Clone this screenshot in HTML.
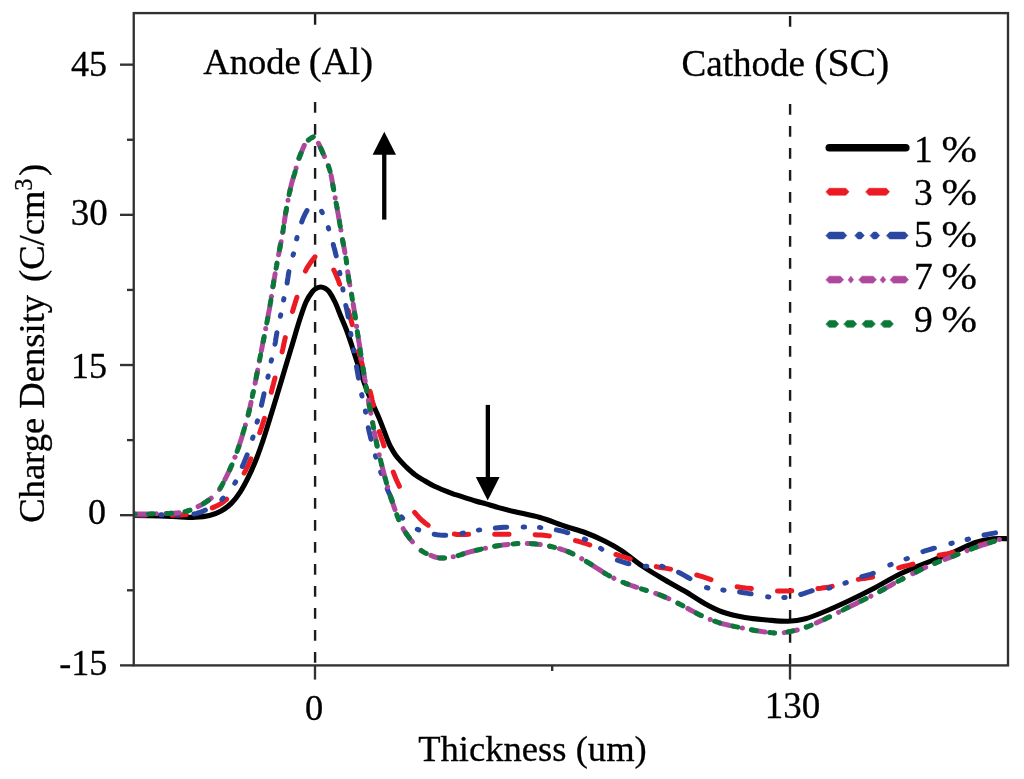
<!DOCTYPE html>
<html><head><meta charset="utf-8"><title>Charge Density</title>
<style>html,body{margin:0;padding:0;background:#fff}svg{display:block}</style></head>
<body>
<svg width="1024" height="779" viewBox="0 0 1024 779">
<rect width="1024" height="779" fill="#fff"/>
<g stroke="#1c1c1c" stroke-width="2.4" stroke-dasharray="10.8 11.2" fill="none">
<line x1="315.1" y1="14" x2="315.1" y2="665.4"/>
<line x1="790.1" y1="16" x2="790.1" y2="665.4"/>
</g>
<rect x="200" y="30" width="176" height="66" fill="#fff"/>
<rect x="678" y="30" width="212" height="68" fill="#fff"/>
<clipPath id="cp"><rect x="133.75" y="13.10" width="874.25" height="652.30"/></clipPath>
<g clip-path="url(#cp)" fill="none" stroke-linecap="round" stroke-linejoin="round">
<path d="M133.00 515.50 C137.50 515.58 152.17 515.77 160.00 516.00 C167.83 516.23 174.10 516.68 180.00 516.90 C185.90 517.12 190.48 517.52 195.40 517.30 C200.32 517.08 205.22 516.63 209.50 515.60 C213.78 514.57 217.47 513.13 221.10 511.10 C224.73 509.07 228.10 506.60 231.30 503.40 C234.50 500.20 237.30 496.60 240.30 491.90 C243.30 487.20 246.52 480.98 249.30 475.20 C252.08 469.42 254.65 463.18 257.00 457.20 C259.35 451.22 261.30 445.58 263.40 439.30 C265.50 433.02 267.42 426.55 269.60 419.50 C271.78 412.45 274.07 405.03 276.50 397.00 C278.93 388.97 281.63 379.85 284.20 371.30 C286.77 362.75 289.33 354.25 291.90 345.70 C294.47 337.15 297.25 327.28 299.60 320.00 C301.95 312.72 303.87 306.73 306.00 302.00 C308.13 297.27 310.65 293.90 312.40 291.60 C314.15 289.30 315.12 288.97 316.50 288.20 C317.88 287.43 319.28 287.00 320.70 287.00 C322.12 287.00 323.62 287.43 325.00 288.20 C326.38 288.97 327.33 289.30 329.00 291.60 C330.67 293.90 333.08 298.02 335.00 302.00 C336.92 305.98 338.62 310.92 340.50 315.50 C342.38 320.08 344.47 324.67 346.30 329.50 C348.13 334.33 349.72 339.15 351.50 344.50 C353.28 349.85 354.28 353.62 357.00 361.60 C359.72 369.58 364.08 382.90 367.80 392.40 C371.52 401.90 376.02 410.67 379.30 418.60 C382.58 426.53 385.55 435.18 387.50 440.00 C389.45 444.82 389.67 445.00 391.00 447.50 C392.33 450.00 393.92 452.75 395.50 455.00 C397.08 457.25 398.72 459.00 400.50 461.00 C402.28 463.00 403.78 464.72 406.20 467.00 C408.62 469.28 411.92 472.40 415.00 474.70 C418.08 477.00 421.37 478.83 424.70 480.80 C428.03 482.77 430.38 484.37 435.00 486.50 C439.62 488.63 448.57 492.12 452.40 493.60 C456.23 495.08 454.15 494.17 458.00 495.40 C461.85 496.63 470.83 499.58 475.50 501.00 C480.17 502.42 482.15 502.80 486.00 503.90 C489.85 505.00 493.77 506.29 498.60 507.60 C503.43 508.91 508.10 510.10 515.00 511.75 C521.90 513.40 531.67 515.08 540.00 517.50 C548.33 519.92 557.50 523.75 565.00 526.25 C572.50 528.75 578.33 530.00 585.00 532.50 C591.67 535.00 598.75 538.12 605.00 541.25 C611.25 544.38 616.25 547.08 622.50 551.25 C628.75 555.42 635.42 561.46 642.50 566.25 C649.58 571.04 657.92 575.83 665.00 580.00 C672.08 584.17 678.33 587.29 685.00 591.25 C691.67 595.21 698.75 600.29 705.00 603.75 C711.25 607.21 715.83 609.71 722.50 612.00 C729.17 614.29 737.50 616.17 745.00 617.50 C752.50 618.83 760.33 619.38 767.50 620.00 C774.67 620.62 781.67 621.46 788.00 621.25 C794.33 621.04 799.25 620.42 805.50 618.75 C811.75 617.08 818.00 614.38 825.50 611.25 C833.00 608.12 842.17 603.96 850.50 600.00 C858.83 596.04 867.17 591.88 875.50 587.50 C883.83 583.12 891.33 578.12 900.50 573.75 C909.67 569.38 921.33 565.00 930.50 561.25 C939.67 557.50 948.00 554.38 955.50 551.25 C963.00 548.12 969.25 544.58 975.50 542.50 C981.75 540.42 987.58 539.38 993.00 538.75 C998.42 538.12 1005.50 538.75 1008.00 538.75" stroke="#000" stroke-width="5.1" stroke-linecap="butt"/>
<path d="M133.0 515.0L135.6 515.0L138.1 515.0L140.7 515.0L143.2 515.1L145.8 515.1M171.9 515.2L174.8 515.1L177.6 515.1L180.5 515.0L183.3 514.8L186.2 514.6M212.3 507.9L215.2 506.6L218.0 505.2L220.9 503.6L223.7 501.6L226.6 499.2M244.1 473.1L245.7 470.2L247.1 467.4L248.5 464.5L249.7 461.7L250.8 458.8M259.7 432.7L260.7 429.8L261.7 427.0L262.6 424.1L263.5 421.3L264.4 418.4M271.3 392.3L272.0 389.4L272.7 386.6L273.5 383.7L274.2 380.9L275.0 378.0M282.1 351.9L282.8 349.0L283.4 346.2L284.0 343.3L284.6 340.5L285.3 337.6M292.5 311.5L293.4 308.6L294.2 305.8L295.1 302.9L296.0 300.1L296.9 297.2M305.4 271.1L306.9 268.2L308.7 265.4L310.6 262.5L312.7 259.7L315.0 256.8M333.8 270.0L335.1 272.8L336.4 275.7L337.6 278.6L338.7 281.4L339.7 284.3M348.2 310.4L349.0 313.2L349.9 316.1L350.7 319.0L351.5 321.8L352.3 324.7M358.7 350.8L359.4 353.6L360.1 356.5L360.8 359.4L361.6 362.2L362.4 365.1M370.0 391.2L370.8 394.0L371.5 396.9L372.1 399.8L372.8 402.6L373.4 405.5M379.3 431.6L380.2 434.4L381.1 437.3L382.1 440.2L383.1 443.0L384.0 445.9M393.3 472.0L394.3 474.8L395.5 477.7L396.7 480.6L398.0 483.4L399.4 486.3M414.6 512.4L417.0 515.2L419.6 518.1L422.5 520.8L425.4 523.2L428.2 525.2M454.3 534.0L457.2 534.4L460.0 534.5L462.9 534.5L465.8 534.4L468.6 534.3M494.7 534.2L497.6 534.2L500.4 534.2L503.3 534.3L506.2 534.3L509.0 534.3M535.1 534.7L538.0 534.9L540.8 535.1L543.7 535.3L546.6 535.6L549.4 536.0M575.5 540.6L578.4 541.3L581.2 542.1L584.1 543.0L587.0 544.0L589.8 545.0M615.9 554.5L618.8 555.4L621.6 556.3L624.5 557.2L627.4 558.1L630.2 558.9M656.3 566.6L659.2 567.2L662.0 567.7L664.9 568.1L667.8 568.6L670.6 569.1M696.7 575.0L699.6 575.8L702.4 576.7L705.3 577.7L708.2 578.6L711.0 579.6M737.1 586.7L740.0 587.2L742.8 587.6L745.7 588.0L748.6 588.3L751.4 588.6M777.5 590.9L780.4 590.9L783.2 591.0L786.1 591.0L789.0 590.9L791.8 590.8M817.9 588.5L820.8 588.2L823.6 587.8L826.5 587.4L829.4 587.0L832.2 586.4M858.3 579.4L861.2 578.9L864.0 578.4L866.9 578.0L869.8 577.5L872.6 577.0M898.7 567.8L901.6 567.0L904.4 566.3L907.3 565.6L910.2 564.9L913.0 564.1M939.1 555.3L942.0 554.7L944.8 554.2L947.7 553.7L950.6 553.1L953.4 552.5M979.5 545.1L982.4 544.4L985.2 543.6L988.1 542.9L991.0 542.1L993.8 541.4" stroke="#ec1a22" stroke-width="5"/>
<path d="M133.0 514.6L135.8 514.6L138.7 514.6L141.5 514.7L144.3 514.7M160.8 514.8L162.1 514.8M177.0 514.8L178.4 514.9M193.9 514.0L196.8 513.4L199.6 512.5L202.5 511.4L205.4 510.0M221.9 499.4L223.2 498.1M234.8 483.2L235.6 481.9M242.3 466.4L243.6 463.5L244.8 460.6L246.0 457.8L247.1 454.9M252.6 438.4L253.0 437.0M257.1 422.1L257.5 420.8M261.4 405.3L262.1 402.4L262.7 399.5L263.4 396.7L264.0 393.8M267.9 377.3L268.2 376.0M271.2 361.1L271.5 359.7M275.0 344.2L275.5 341.3L275.9 338.4L276.4 335.6L276.9 332.7M280.4 316.2L280.7 314.9M283.6 300.0L283.9 298.6M287.1 283.1L287.5 280.2L288.0 277.4L288.4 274.5L288.9 271.6M293.1 255.1L293.5 253.8M296.7 238.9L297.0 237.5M301.7 222.0L302.8 219.1L304.0 216.3L305.4 213.4L307.0 210.5M321.6 211.3L322.3 212.7M328.3 227.6L328.7 228.9M333.3 244.5L334.0 247.3L334.8 250.2L335.5 253.1L336.2 255.9M339.6 272.4L339.9 273.8M342.8 288.7L343.0 290.0M345.8 305.5L346.5 308.4L347.1 311.3L347.7 314.2L348.3 317.0M350.7 333.5L350.9 334.9M353.7 349.8L353.9 351.1M356.5 366.6L357.0 369.5L357.5 372.4L358.0 375.3L358.5 378.1M361.7 394.6L362.0 396.0M365.4 410.9L365.6 412.2M368.3 427.7L368.9 430.6L369.6 433.5L370.3 436.3L371.0 439.2M375.5 455.7L375.9 457.1M380.7 472.0L381.2 473.3M387.2 488.8L388.4 491.7L389.7 494.6L390.9 497.4L392.1 500.3M401.4 516.8L402.6 518.1M417.3 529.3L418.7 529.9M434.2 534.2L437.0 534.7L439.9 535.0L442.8 535.2L445.7 535.2M462.1 533.3L463.5 533.1M478.4 530.1L479.7 529.9M495.3 528.0L498.1 527.7L501.0 527.5L503.9 527.3L506.7 527.2M523.2 527.0L524.6 527.0M539.5 527.4L540.8 527.6M556.3 529.9L559.2 530.5L562.1 531.1L565.0 531.9L567.8 532.8M584.3 539.0L585.7 539.7M600.6 548.3L601.9 549.2M617.4 560.1L620.3 561.2L623.2 562.2L626.1 563.0L628.9 563.7M645.4 566.3L646.8 566.3M661.7 566.3L663.0 566.6M678.5 572.3L681.4 573.8L684.3 575.4L687.1 577.0L690.0 578.6M706.5 587.6L707.9 588.0M722.8 590.0L724.1 590.2M739.6 592.0L742.5 592.5L745.4 592.9L748.2 593.4L751.1 593.8M767.6 596.8L768.9 596.9M783.8 597.5L785.2 597.4M800.7 594.5L803.6 593.6L806.4 592.6L809.3 591.7L812.2 590.7M828.7 588.1L830.0 587.8M844.9 583.2L846.3 582.7M861.8 576.7L864.7 575.9L867.5 575.1L870.4 574.3L873.3 573.3M889.8 565.0L891.1 564.4M906.0 559.0L907.4 558.5M922.9 551.6L925.8 550.7L928.6 549.8L931.5 549.0L934.4 548.2M950.9 543.5L952.2 543.1M967.1 539.5L968.5 539.1M984.0 535.0L986.8 534.5L989.7 533.9L992.6 533.4L995.5 532.9" stroke="#2a47a1" stroke-width="5"/>
<path d="M133.9 514.0L136.5 514.0L139.1 514.0L141.7 513.9L144.3 513.9L146.9 513.9M156.2 513.8L156.3 513.8M166.0 513.5L168.6 513.4L171.2 513.3L173.8 513.2L176.4 513.0L179.1 512.8M188.3 510.7L188.4 510.6M198.1 506.6L200.7 505.3L203.3 503.7L205.9 502.0L208.6 500.2L211.2 498.1M219.6 489.4L219.7 489.2M224.9 479.6L226.2 477.0L227.5 474.3L228.8 471.7L230.0 469.1L231.1 466.5M234.9 457.2L235.0 457.1M238.5 447.5L239.4 444.8L240.2 442.2L241.1 439.6L241.9 437.0L242.7 434.4M245.4 425.1L245.4 425.0M248.1 415.3L248.7 412.7L249.3 410.1L249.9 407.5L250.5 404.9L251.0 402.3M253.0 393.0L253.0 392.9M255.1 383.2L255.6 380.6L256.2 378.0L256.7 375.4L257.2 372.8L257.7 370.1M259.4 360.9L259.5 360.8M261.3 351.1L261.8 348.5L262.3 345.9L262.8 343.3L263.3 340.6L263.9 338.0M265.7 328.8L265.7 328.6M267.6 319.0L268.1 316.4L268.5 313.7L269.0 311.1L269.5 308.5L269.9 305.9M271.4 296.6L271.5 296.5M272.9 286.9L273.4 284.2L273.8 281.6L274.2 279.0L274.7 276.4L275.1 273.8M276.8 264.5L276.8 264.4M278.6 254.7L279.1 252.1L279.6 249.5L280.1 246.9L280.5 244.3L281.1 241.7M282.7 232.4L282.8 232.3M284.2 222.6L284.6 220.0L285.0 217.4L285.4 214.8L285.8 212.2L286.3 209.5M288.0 200.3L288.0 200.2M290.0 190.5L290.6 187.9L291.2 185.3L291.8 182.7L292.6 180.0L293.4 177.4M296.1 168.2L296.1 168.0M299.0 158.4L299.9 155.8L301.0 153.1L302.1 150.5L303.2 147.9L304.3 145.3M312.1 137.5L312.3 137.4M318.5 143.3L319.7 145.9L320.9 148.5L322.1 151.1L323.2 153.8L324.4 156.4M328.3 165.6L328.3 165.8M331.1 175.4L331.6 178.0L332.1 180.7L332.5 183.3L333.0 185.9L333.5 188.5M335.2 197.8L335.2 197.9M337.0 207.5L337.4 210.2L337.9 212.8L338.4 215.4L338.8 218.0L339.3 220.6M340.9 229.9L340.9 230.0M342.5 239.7L343.0 242.3L343.5 244.9L344.0 247.5L344.5 250.1L344.9 252.7M346.5 262.0L346.5 262.1M347.7 271.8L348.1 274.4L348.4 277.0L348.8 279.6L349.3 282.2L349.8 284.9M351.5 294.1L351.5 294.3M353.2 303.9L353.6 306.5L354.0 309.1L354.4 311.7L354.8 314.4L355.2 317.0M356.6 326.2L356.6 326.4M358.0 336.0L358.4 338.6L358.8 341.3L359.3 343.9L359.7 346.5L360.1 349.1M361.5 358.4L361.5 358.5M363.1 368.1L363.5 370.8L363.9 373.4L364.3 376.0L364.7 378.6L365.2 381.2M366.7 390.5L366.7 390.6M368.4 400.3L368.8 402.9L369.3 405.5L369.8 408.1L370.3 410.7L370.8 413.3M372.6 422.6L372.6 422.7M374.4 432.4L374.9 435.0L375.4 437.6L376.0 440.2L376.5 442.8L377.0 445.5M379.2 454.7L379.2 454.9M381.6 464.5L382.3 467.1L382.9 469.7L383.6 472.3L384.3 475.0L385.0 477.6M387.6 486.8L387.6 487.0M390.5 496.6L391.4 499.2L392.3 501.9L393.2 504.5L394.1 507.1L395.0 509.7M398.5 519.0L398.5 519.1M403.2 528.7L404.8 531.4L406.5 534.0L408.4 536.6L410.3 539.2L412.4 541.8M421.1 550.5L421.2 550.6M430.9 555.4L433.5 556.5L436.1 557.3L438.7 557.9L441.3 558.1L443.9 558.1M453.2 556.8L453.3 556.8M463.0 554.0L465.6 553.2L468.2 552.4L470.8 551.7L473.4 551.0L476.1 550.4M485.3 548.2L485.5 548.2M495.1 546.2L497.7 545.8L500.3 545.4L502.9 545.0L505.6 544.7L508.2 544.4M517.4 543.6L517.6 543.6M527.2 543.5L529.8 543.6L532.5 543.7L535.1 544.0L537.7 544.2L540.3 544.5M549.6 546.1L549.7 546.2M559.3 548.7L562.0 549.5L564.6 550.4L567.2 551.3L569.8 552.4L572.4 553.6M581.7 558.7L581.8 558.8M591.5 564.6L594.1 566.3L596.7 568.0L599.3 569.7L601.9 571.4L604.5 573.1M613.8 578.2L613.9 578.3M623.6 582.5L626.2 583.6L628.8 584.6L631.4 585.5L634.0 586.4L636.7 587.3M645.9 590.3L646.1 590.3M655.7 593.4L658.3 594.4L660.9 595.4L663.5 596.4L666.2 597.5L668.8 598.7M678.0 603.3L678.2 603.3M687.8 608.5L690.4 610.0L693.1 611.4L695.7 612.8L698.3 614.2L700.9 615.4M710.2 619.5L710.3 619.5M719.9 623.0L722.6 623.8L725.2 624.4L727.8 625.0L730.4 625.6L733.0 626.1M742.3 628.0L742.4 628.0M752.1 629.9L754.7 630.4L757.3 630.8L759.9 631.2L762.5 631.6L765.1 632.0M774.4 632.9L774.5 632.9M784.2 632.6L786.8 632.1L789.4 631.6L792.0 631.1L794.6 630.6L797.3 630.0M806.5 627.1L806.7 627.1M816.3 623.0L818.9 621.8L821.5 620.6L824.1 619.4L826.8 618.1L829.4 616.9M838.6 612.3L838.8 612.2M848.4 607.3L851.0 606.0L853.7 604.7L856.3 603.4L858.9 602.1L861.5 600.8M870.8 596.2L870.9 596.1M880.5 591.0L883.2 589.6L885.8 588.1L888.4 586.6L891.0 585.2L893.6 583.7M902.9 578.8L903.0 578.7M912.7 573.7L915.3 572.4L917.9 571.1L920.5 569.8L923.1 568.5L925.7 567.3M935.0 563.2L935.1 563.2M944.8 559.4L947.4 558.4L950.0 557.4L952.6 556.4L955.2 555.4L957.9 554.3M967.1 550.7L967.3 550.6M976.9 547.0L979.5 546.1L982.1 545.2L984.7 544.3L987.4 543.5L990.0 542.6M999.2 539.6L999.4 539.6" stroke="#ae479d" stroke-width="5"/>
<path d="M133.0 514.0L135.0 514.0M148.4 513.9L150.9 513.8L153.4 513.8M166.7 513.5L169.2 513.4L171.7 513.3M185.0 511.7L187.5 510.9L190.0 510.1M203.4 503.7L205.9 502.1L208.4 500.3M220.3 488.1L221.8 485.6L223.1 483.1M229.7 469.8L230.8 467.3L231.9 464.8M237.1 451.5L238.0 448.9L238.9 446.4M243.0 433.1L243.8 430.6L244.5 428.1M248.2 414.8L248.8 412.3L249.4 409.8M252.3 396.5L252.8 394.0L253.4 391.5M256.1 378.1L256.6 375.6L257.1 373.1M259.6 359.8L260.1 357.3L260.6 354.8M263.2 341.5L263.7 339.0L264.2 336.5M266.8 323.1L267.3 320.6L267.7 318.1M270.1 304.8L270.5 302.3L270.9 299.8M273.0 286.5L273.4 284.0L273.8 281.5M276.1 268.2L276.6 265.6L277.0 263.1M279.5 249.8L280.0 247.3L280.4 244.8M282.9 231.5L283.3 229.0L283.6 226.5M285.6 213.2L286.1 210.7L286.5 208.2M289.1 194.8L289.6 192.3L290.2 189.8M293.7 176.5L294.5 174.0L295.2 171.5M299.0 158.2L300.0 155.7L301.0 153.2M308.3 140.1L310.8 138.3L313.3 136.8M320.7 148.1L321.8 150.6L322.9 153.1M328.5 166.4L329.4 168.9L330.1 171.4M332.8 184.7L333.2 187.2L333.7 189.7M336.1 203.0L336.6 205.5L337.1 208.0M339.4 221.4L339.8 223.9L340.3 226.4M342.5 239.7L343.0 242.2L343.4 244.7M345.9 258.0L346.3 260.5L346.6 263.0M348.3 276.4L348.7 278.9L349.1 281.4M351.6 294.7L352.0 297.2L352.4 299.7M354.6 313.0L355.0 315.5L355.4 318.0M357.3 331.4L357.7 333.9L358.1 336.4M360.2 349.7L360.5 352.2L360.9 354.7M363.0 368.0L363.4 370.5L363.8 373.0M366.0 386.3L366.4 388.8L366.8 391.3M369.1 404.7L369.6 407.2L370.1 409.7M372.7 423.0L373.2 425.5L373.6 428.0M376.2 441.3L376.7 443.8L377.2 446.3M380.4 459.7L381.0 462.2L381.6 464.7M385.1 478.0L385.8 480.5L386.5 483.0M390.4 496.3L391.2 498.8L392.1 501.3M396.8 514.7L397.7 517.2L398.8 519.7M405.8 533.0L407.6 535.5L409.4 538.0M421.3 550.7L423.8 552.2L426.3 553.4M439.6 558.0L442.1 558.1L444.6 558.1M458.0 555.6L460.5 554.8L463.0 554.0M476.3 550.3L478.8 549.7L481.3 549.1M494.6 546.3L497.1 545.9L499.6 545.5M513.0 543.9L515.5 543.7L518.0 543.6M531.3 543.7L533.8 543.8L536.3 544.1M549.6 546.2L552.1 546.8L554.6 547.4M568.0 551.6L570.5 552.7L573.0 553.9M586.3 561.5L588.8 563.0L591.3 564.5M604.6 573.1L607.1 574.6L609.6 576.0M622.9 582.3L625.4 583.3L627.9 584.2M641.3 588.8L643.8 589.6L646.3 590.4M659.6 594.8L662.1 595.8L664.6 596.9M677.9 603.2L680.4 604.5L682.9 605.8M696.3 613.1L698.8 614.4L701.3 615.6M714.6 621.2L717.1 622.0L719.6 622.9M732.9 626.1L735.4 626.6L737.9 627.1M751.3 629.8L753.8 630.2L756.3 630.7M769.6 632.5L772.1 632.7L774.6 632.9M787.9 631.9L790.4 631.4L792.9 630.9M806.2 627.2L808.7 626.3L811.2 625.2M824.6 619.2L827.1 618.0L829.6 616.8M842.9 610.1L845.4 608.8L847.9 607.6M861.2 600.9L863.7 599.7L866.2 598.5M879.6 591.6L882.1 590.2L884.6 588.8M897.9 581.4L900.4 580.1L902.9 578.7M916.2 571.9L918.7 570.7L921.2 569.4M934.6 563.4L937.1 562.4L939.6 561.4M952.9 556.3L955.4 555.3L957.9 554.3M971.2 549.1L973.7 548.2L976.2 547.2M989.5 542.7L992.0 541.9L994.5 541.1" stroke="#0a7838" stroke-width="5"/>
</g>
<rect x="133.75" y="13.10" width="874.25" height="652.30" fill="none" stroke="#323232" stroke-width="2.35"/>
<g stroke="#323232" stroke-width="2.35">
<line x1="120" x2="133.75" y1="64.66" y2="64.66"/>
<line x1="120" x2="133.75" y1="214.84" y2="214.84"/>
<line x1="120" x2="133.75" y1="365.02" y2="365.02"/>
<line x1="120" x2="133.75" y1="515.20" y2="515.20"/>
<line x1="120" x2="133.75" y1="665.38" y2="665.38"/>
<line x1="127" x2="133.75" y1="139.75" y2="139.75"/>
<line x1="127" x2="133.75" y1="289.93" y2="289.93"/>
<line x1="127" x2="133.75" y1="440.11" y2="440.11"/>
<line x1="127" x2="133.75" y1="590.29" y2="590.29"/>
<line x1="315" x2="315" y1="665.40" y2="679.6"/>
<line x1="790" x2="790" y1="665.40" y2="679.6"/>
<line x1="552.2" x2="552.2" y1="665.40" y2="671"/>
</g>
<g font-family="'Liberation Serif', 'Times New Roman', serif" font-size="36" fill="#000" stroke="#000" stroke-width="0.3" stroke-linejoin="round">
<text x="106.9" y="76.0" text-anchor="end" font-size="36">45</text>
<text x="107.8" y="225.4" text-anchor="end" font-size="37">30</text>
<text x="107.1" y="377.6" text-anchor="end" font-size="36">15</text>
<text x="106.0" y="524.4" text-anchor="end" font-size="36">0</text>
<text x="107.2" y="674.9" text-anchor="end" font-size="36">-15</text>
<text x="314.1" y="719.6" text-anchor="middle" font-size="36.4">0</text>
<text x="792.6" y="718" text-anchor="middle" font-size="37">130</text>
<text x="532.5" y="761.4" text-anchor="middle" font-size="36.6">Thickness (um)</text>
<text transform="translate(43.7,0) rotate(-90)" font-size="36.6"><tspan x="-522.8">Charge Density </tspan><tspan x="-282">(C/cm</tspan><tspan x="-190.8" font-size="24.5" dy="-11.8">3</tspan><tspan x="-175.9" dy="11.8">)</tspan></text>
<text y="73.9"><tspan x="203.3" font-size="36.5">Anode </tspan><tspan x="308.8" font-size="38.6">(Al)</tspan></text>
<text y="75.6"><tspan x="681.5" font-size="37.1">Cathode </tspan><tspan x="814.2" font-size="39.8">(SC)</tspan></text>
<text y="162.3" font-size="37.5"><tspan x="914">1 </tspan><tspan x="941.5" textLength="35.5" lengthAdjust="spacingAndGlyphs">%</tspan></text>
<text y="204.6" font-size="37.5"><tspan x="914">3 </tspan><tspan x="941.5" textLength="35.5" lengthAdjust="spacingAndGlyphs">%</tspan></text>
<text y="246.9" font-size="37.5"><tspan x="914">5 </tspan><tspan x="941.5" textLength="35.5" lengthAdjust="spacingAndGlyphs">%</tspan></text>
<text y="289.2" font-size="37.5"><tspan x="914">7 </tspan><tspan x="941.5" textLength="35.5" lengthAdjust="spacingAndGlyphs">%</tspan></text>
<text y="331.5" font-size="37.5"><tspan x="914">9 </tspan><tspan x="941.5" textLength="35.5" lengthAdjust="spacingAndGlyphs">%</tspan></text>
</g>
<g fill="#000"><rect x="382.1" y="153" width="4.3" height="66.6"/><polygon points="384.3,131.7 372.6,154.8 396,154.8"/>
<rect x="485.7" y="404.9" width="4.3" height="74"/><polygon points="487.7,500.4 475.8,477 499.6,477"/></g>
<g fill="none" stroke-linecap="round">
<line x1="829.3" x2="905.8" y1="147.8" y2="147.8" stroke="#000" stroke-width="7.6"/>
<polygon fill="#ec1a22" stroke="#ec1a22" stroke-width="0.6" stroke-linejoin="round" points="826.0,191.8 829.2,188.3 845.8,188.3 849.0,191.8 845.8,195.2 829.2,195.2"/>
<polygon fill="#ec1a22" stroke="#ec1a22" stroke-width="0.6" stroke-linejoin="round" points="865.8,191.8 869.0,188.3 886.3,188.3 889.5,191.8 886.3,195.2 869.0,195.2"/>
<polygon fill="#2a47a1" stroke="#2a47a1" stroke-width="0.6" stroke-linejoin="round" points="826.0,235.5 829.2,232.1 843.6,232.1 846.8,235.5 843.6,238.9 829.2,238.9"/>
<polygon fill="#2a47a1" stroke="#2a47a1" stroke-width="0.6" stroke-linejoin="round" points="854.9,235.5 858.1,232.1 861.1,232.1 864.3,235.5 861.1,238.9 858.1,238.9"/>
<polygon fill="#2a47a1" stroke="#2a47a1" stroke-width="0.6" stroke-linejoin="round" points="870.2,235.5 873.4,232.1 876.5,232.1 879.7,235.5 876.5,238.9 873.4,238.9"/>
<polygon fill="#2a47a1" stroke="#2a47a1" stroke-width="0.6" stroke-linejoin="round" points="886.6,235.5 889.8,232.1 904.9,232.1 908.1,235.5 904.9,238.9 889.8,238.9"/>
<polygon fill="#ae479d" stroke="#ae479d" stroke-width="0.6" stroke-linejoin="round" points="826.0,279.7 829.2,276.2 840.4,276.2 843.6,279.7 840.4,283.1 829.2,283.1"/>
<polygon fill="#ae479d" stroke="#ae479d" stroke-width="0.6" stroke-linejoin="round" points="848.2,279.7 850.9,276.2 850.9,276.2 853.6,279.7 850.9,283.1 850.9,283.1"/>
<polygon fill="#ae479d" stroke="#ae479d" stroke-width="0.6" stroke-linejoin="round" points="858.8,279.7 862.0,276.2 873.2,276.2 876.4,279.7 873.2,283.1 862.0,283.1"/>
<polygon fill="#ae479d" stroke="#ae479d" stroke-width="0.6" stroke-linejoin="round" points="880.2,279.7 883.0,276.2 883.0,276.2 885.8,279.7 883.0,283.1 883.0,283.1"/>
<polygon fill="#ae479d" stroke="#ae479d" stroke-width="0.6" stroke-linejoin="round" points="890.2,279.7 893.4,276.2 905.3,276.2 908.5,279.7 905.3,283.1 893.4,283.1"/>
<polygon fill="#0a7838" stroke="#0a7838" stroke-width="0.6" stroke-linejoin="round" points="826.0,323.9 829.2,320.4 835.5,320.4 838.7,323.9 835.5,327.3 829.2,327.3"/>
<polygon fill="#0a7838" stroke="#0a7838" stroke-width="0.6" stroke-linejoin="round" points="843.9,323.9 847.1,320.4 853.5,320.4 856.7,323.9 853.5,327.3 847.1,327.3"/>
<polygon fill="#0a7838" stroke="#0a7838" stroke-width="0.6" stroke-linejoin="round" points="862.1,323.9 865.3,320.4 872.1,320.4 875.3,323.9 872.1,327.3 865.3,327.3"/>
<polygon fill="#0a7838" stroke="#0a7838" stroke-width="0.6" stroke-linejoin="round" points="880.7,323.9 883.9,320.4 890.2,320.4 893.4,323.9 890.2,327.3 883.9,327.3"/>
</g>
</svg>
</body></html>
